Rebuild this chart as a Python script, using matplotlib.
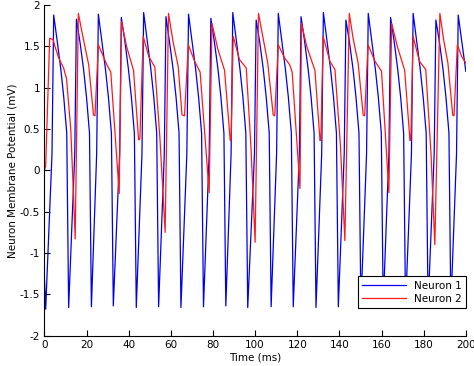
import matplotlib
matplotlib.use("Agg")
import matplotlib.pyplot as plt

plt.rcParams['font.family'] = ['DejaVu Sans']
plt.rcParams['axes.unicode_minus'] = False

# Neuron 1 (blue) key points
t1 = [0.0, 0.6, 3.6,
      4.4, 6.1, 7.8, 9.2, 10.6, 11.5, 14.4,
      15.2, 16.9, 18.6, 20.0, 21.4, 22.3, 24.8,
      25.6, 27.3, 29.0, 30.4, 31.8, 32.7, 35.7,
      36.5, 38.2, 39.9, 41.3, 42.7, 43.6, 46.3,
      47.1, 48.8, 50.5, 51.9, 53.3, 54.2, 56.9,
      57.7, 59.4, 61.1, 62.5, 63.9, 64.8, 67.6,
      68.4, 70.1, 71.8, 73.2, 74.6, 75.5, 78.2,
      79.0, 80.7, 82.4, 83.8, 85.2, 86.1, 88.6,
      89.4, 91.1, 92.8, 94.2, 95.6, 96.5, 99.7,
      100.5, 102.2, 103.9, 105.3, 106.7, 107.6, 110.2,
      111.0, 112.7, 114.4, 115.8, 117.2, 118.1, 121.0,
      121.8, 123.5, 125.2, 126.6, 128.0, 128.9, 131.6,
      132.4, 134.1, 135.8, 137.2, 138.6, 139.5, 142.3,
      143.1, 144.8, 146.5, 147.9, 149.3, 150.2, 152.9,
      153.7, 155.4, 157.1, 158.5, 159.9, 160.8, 163.5,
      164.3, 166.0, 167.7, 169.1, 170.5, 171.4, 174.2,
      175.0, 176.7, 178.4, 179.8, 181.2, 182.1, 185.0,
      185.8, 187.5, 189.2, 190.6, 192.0, 192.9, 195.6,
      196.4, 198.1, 200.0]
v1 = [-1.30, -1.68, 0.20,
      1.88, 1.56, 1.22, 0.88, 0.45, -1.66, 0.20,
      1.83, 1.55, 1.22, 0.88, 0.45, -1.65, 0.20,
      1.89, 1.56, 1.22, 0.88, 0.45, -1.64, 0.20,
      1.85, 1.56, 1.22, 0.88, 0.45, -1.66, 0.20,
      1.91, 1.57, 1.23, 0.89, 0.45, -1.65, 0.20,
      1.86, 1.55, 1.22, 0.88, 0.45, -1.66, 0.20,
      1.89, 1.56, 1.22, 0.88, 0.45, -1.65, 0.20,
      1.84, 1.55, 1.22, 0.88, 0.45, -1.64, 0.20,
      1.91, 1.57, 1.23, 0.89, 0.45, -1.66, 0.20,
      1.82, 1.55, 1.22, 0.88, 0.45, -1.65, 0.20,
      1.90, 1.56, 1.22, 0.88, 0.45, -1.65, 0.20,
      1.86, 1.56, 1.22, 0.88, 0.45, -1.66, 0.20,
      1.91, 1.57, 1.23, 0.89, 0.45, -1.65, 0.20,
      1.82, 1.55, 1.22, 0.88, 0.45, -1.65, 0.20,
      1.90, 1.56, 1.22, 0.88, 0.45, -1.64, 0.20,
      1.85, 1.56, 1.22, 0.88, 0.45, -1.66, 0.20,
      1.90, 1.56, 1.22, 0.88, 0.45, -1.65, 0.20,
      1.82, 1.55, 1.22, 0.88, 0.45, -1.65, 0.20,
      1.88, 1.56, 1.20]

# Neuron 2 (red) key points
t2 = [0.0, 0.6, 2.5, 4.2, 5.0, 6.8, 9.1, 10.5, 12.5, 13.8, 14.6,
      16.1, 18.4, 21.0, 23.3, 24.0, 25.6, 29.6, 31.5, 35.5, 36.6,
      39.0, 42.3, 44.7, 45.3, 46.9, 49.5, 52.4, 54.8, 57.3,
      58.9, 61.1, 63.5, 65.3, 66.5, 68.3, 71.3, 73.9, 78.2, 79.5,
      82.4, 85.5, 88.2, 88.6, 89.6, 92.6, 95.8, 98.0, 100.0,
      101.6, 103.8, 106.0, 108.6, 109.3, 111.0, 114.0, 116.4, 117.6, 121.3, 122.0,
      124.5, 128.4, 130.8, 131.2, 132.3, 135.5, 137.9, 140.5, 142.6,
      144.7, 146.5, 148.9, 151.3, 152.0, 153.6, 156.9, 160.0, 163.5, 164.8,
      167.5, 171.0, 173.5, 173.9, 175.0, 178.0, 181.0, 183.5, 185.3,
      187.7, 189.5, 191.5, 193.8, 194.4, 196.0, 198.0, 200.0]
v2 = [0.00, 0.05, 1.60, 1.58, 1.50, 1.36, 1.24, 1.11, 0.50, -0.30, -0.83,
      1.90, 1.60, 1.28, 0.67, 0.66, 1.52, 1.28, 1.19, -0.28, 1.80,
      1.50, 1.21, 0.37, 0.38, 1.62, 1.38, 1.25, 0.40, -0.75,
      1.90, 1.55, 1.26, 0.67, 0.66, 1.52, 1.32, 1.19, -0.27, 1.78,
      1.46, 1.21, 0.36, 0.37, 1.62, 1.34, 1.24, 0.30, -0.87,
      1.90, 1.60, 1.30, 0.67, 0.66, 1.52, 1.36, 1.28, 1.19, -0.22, 1.78,
      1.50, 1.21, 0.36, 0.37, 1.62, 1.32, 1.22, 0.30, -0.85,
      1.90, 1.60, 1.30, 0.67, 0.66, 1.52, 1.32, 1.20, -0.27, 1.78,
      1.50, 1.21, 0.36, 0.37, 1.62, 1.32, 1.22, 0.20, -0.90,
      1.90, 1.58, 1.30, 0.67, 0.66, 1.52, 1.38, 1.30]

x_ticks = [0, 20, 40, 60, 80, 100, 120, 140, 160, 180, 200]
y_ticks = [-2, -1.5, -1, -0.5, 0, 0.5, 1, 1.5, 2]
y_tick_labels = ['-2', '-1.5', '-1', '-0.5', '0', '0.5', '1', '1.5', '2']
labels = ['Neuron 1', 'Neuron 2']

fig = plt.figure(figsize=(4.74, 3.66), dpi=100)
ax = fig.add_axes([0.0937, 0.083, 0.889, 0.903])

ax.plot(t1, v1, color='#0000ee', lw=0.9, label=labels[0])
ax.plot(t2, v2, color='#ff1a1a', lw=0.9, label=labels[1])

ax.set_xlim(0, 200)
ax.set_ylim(-2, 2)
ax.set_xticks(x_ticks)
ax.set_xticklabels([str(v) for v in x_ticks])
ax.set_yticks(y_ticks)
ax.set_yticklabels(y_tick_labels)

for s in ['top', 'right']:
    ax.spines[s].set_visible(False)
for s in ['left', 'bottom']:
    ax.spines[s].set_linewidth(0.8)

ax.tick_params(direction='in', length=4, width=0.8, labelsize=7.5, pad=3)
ax.set_xlabel('Time (ms)', fontsize=7.5, labelpad=2)
ax.set_ylabel('Neuron Membrane Potential (mV)', fontsize=7.5, labelpad=2)

leg = ax.legend(loc='lower right', bbox_to_anchor=(1.0, 0.084), fontsize=7.5,
                fancybox=False, framealpha=1, edgecolor='black',
                borderaxespad=0, handlelength=4.2, borderpad=0.4,
                labelspacing=0.3)
leg.get_frame().set_linewidth(0.8)

fig.savefig('out.png', dpi=100)
